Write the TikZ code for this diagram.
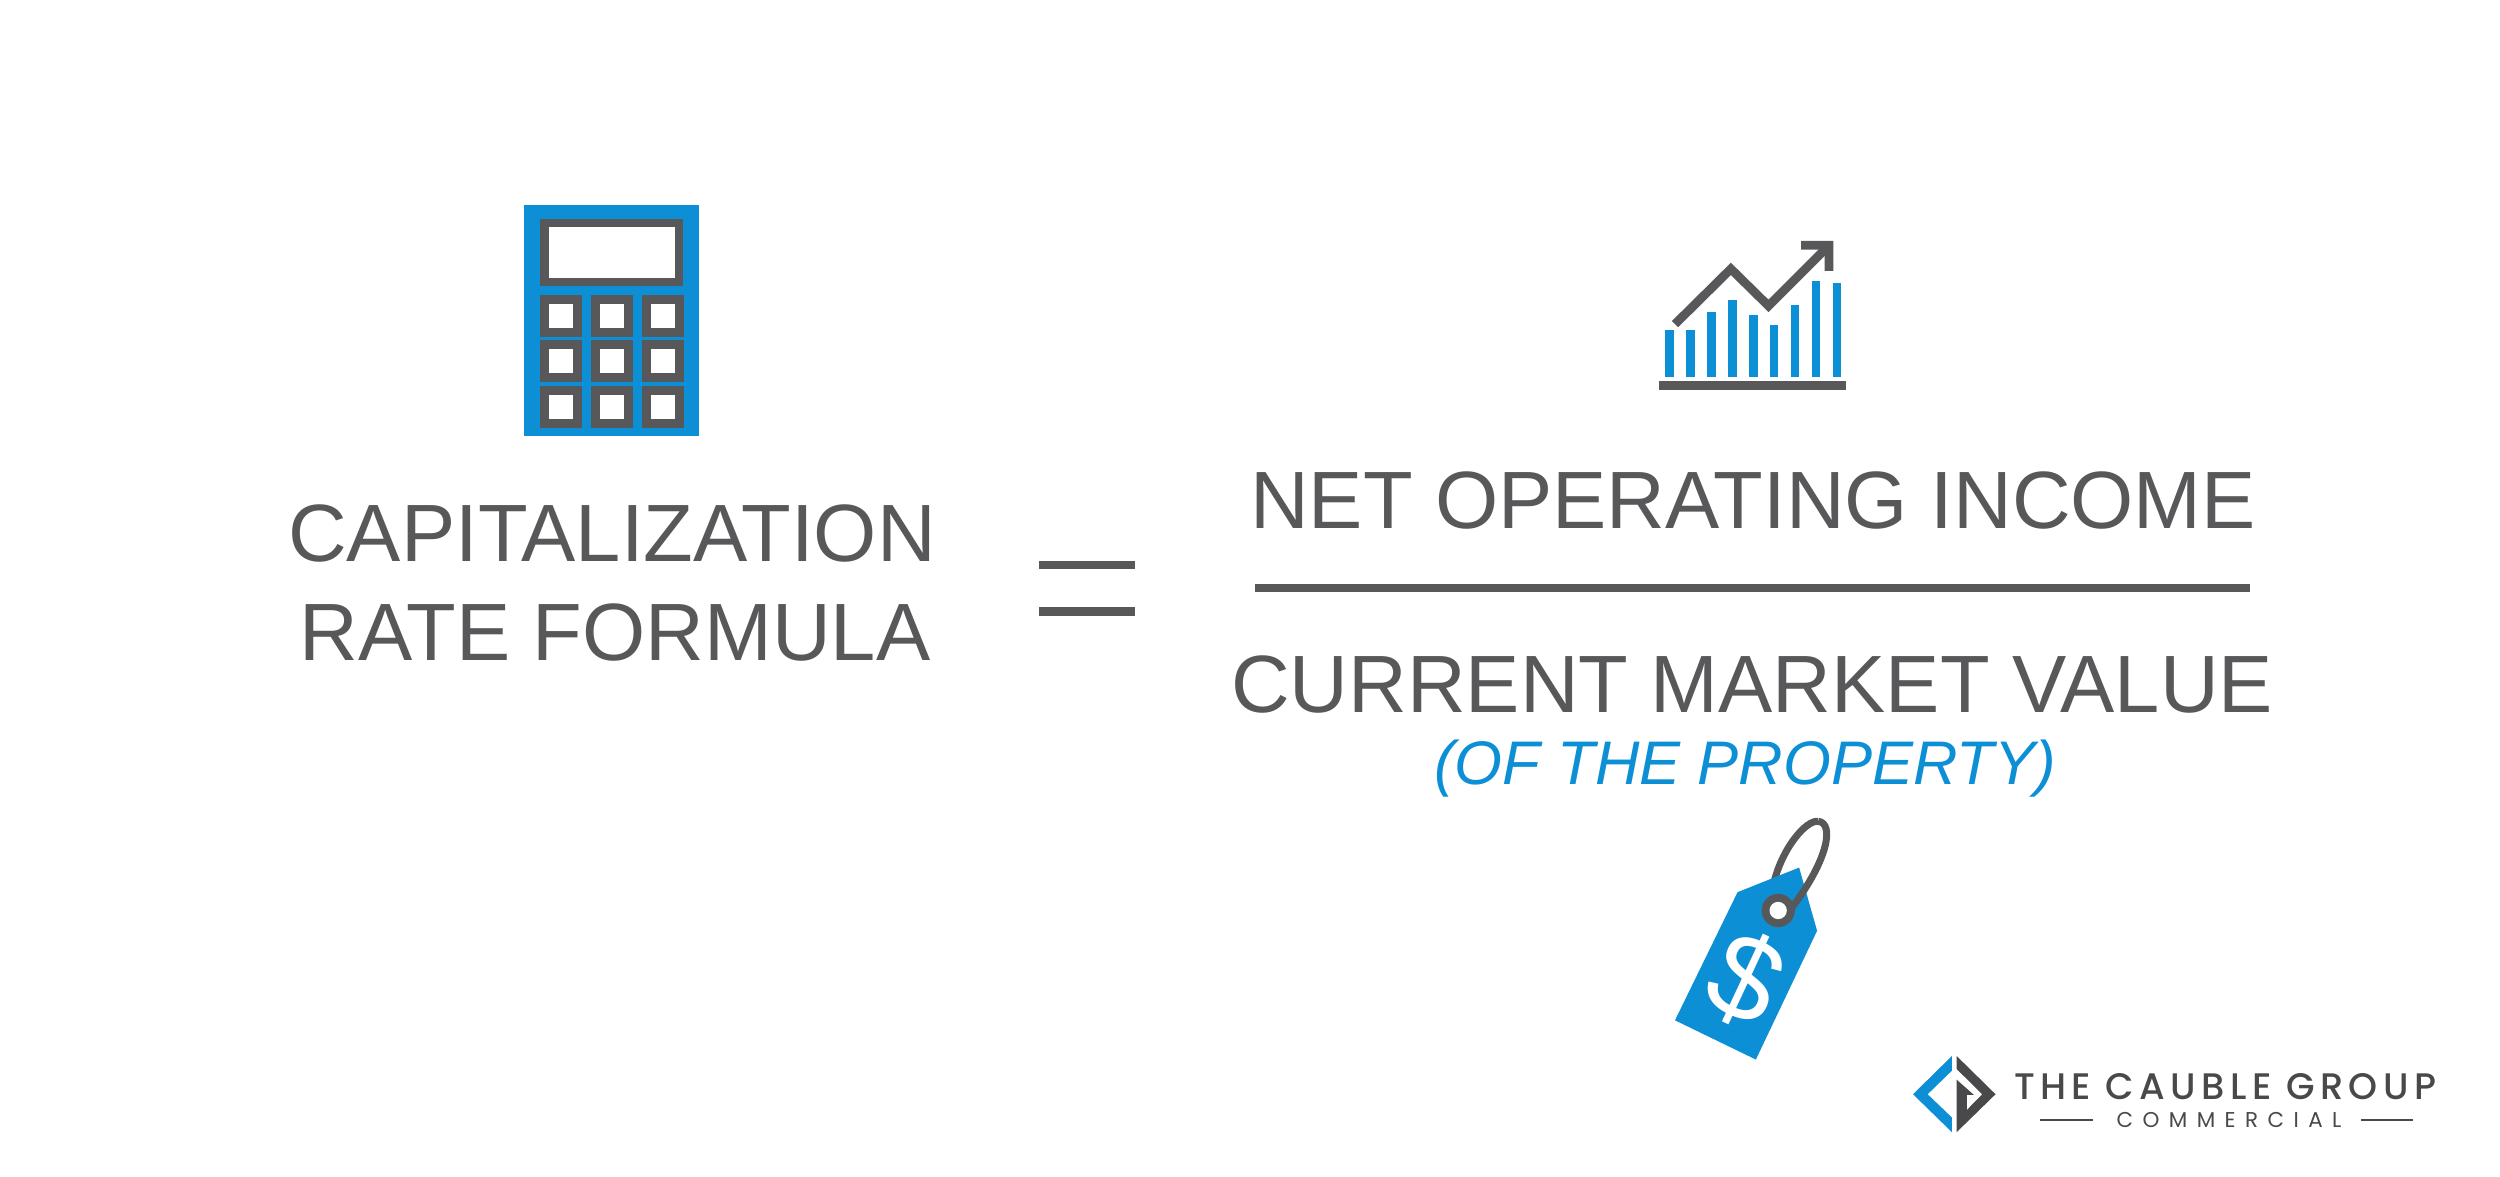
\documentclass[tikz,border=0pt]{standalone}
\usepackage{fontspec}
\setmainfont{Liberation Sans}
\newfontfamily\logofont[LetterSpace=14.5]{Poppins Medium}
\newfontfamily\subfont[LetterSpace=44]{Poppins}
\definecolor{capblue}{HTML}{0D8FD6}
\definecolor{capgrey}{HTML}{58585A}
\definecolor{logogrey}{HTML}{49494B}
\tikzset{
  bigtext/.style={anchor=base,inner sep=0pt,text=capgrey,font=\fontsize{23.12}{28}\selectfont},
  keyface/.style={draw=capgrey,line width=0.088cm,fill=white}
}
\begin{document}
\begin{tikzpicture}[x=0.01cm,y=-0.01cm]
    \useasboundingbox (0,0) rectangle (2500,1177);

    % calculator
    \fill[capblue] (524,205) rectangle (699,436);
    \draw[keyface] (544.5,223) rectangle (679,282);
    \foreach \keyx in {544.5,595.5,646.5}
      \foreach \keyy in {299.5,344.5,390.5}
        \draw[keyface] (\keyx,\keyy) rectangle ++(33,33);

    % chart
    \begin{scope}[shift={(1640,220)},x=0.00333cm,y=-0.00333cm]
      \foreach \barx/\bartop in {88/330,151/330,214/275,277/239,340/287,403/315,466/256,529/182,592/189}
        \fill[capblue] (\barx-13,\bartop) rectangle (\barx+13,471);
      \fill[capgrey] (56,485) rectangle (618,511);
      \draw[capgrey,line width=0.088cm] (105,313)--(273,147)--(386,258)--(568,76);
      \fill[capgrey] (484,63)--(581,63)--(581,153)--(555,153)--(555,89)--(484,89)--cycle;
    \end{scope}

    % price tag
    \begin{scope}[shift={(1660,800)},x=0.00333cm,y=-0.00333cm]
      \draw[capgrey,line width=0.07cm] (343,245) .. controls (370,140) and (440,60) .. (475,64);
      \fill[capblue] (233,277)--(418,203)--(472,393)--(288,780)--(45,662)--cycle;
      \draw[capgrey,line width=0.07cm] (475,64) .. controls (525,70) and (505,180) .. (395,325);
      \fill[capgrey] (355,332) circle (50);
      \fill[white] (355,332) circle (26);
      \node[inner sep=0pt,text=white,rotate=-25,font=\fontsize{34}{34}\selectfont] (dollar) at (257,537) {\$};
    \end{scope}

    % formula
    \node[bigtext] (capline) at (612,562) {CAPITALIZATION};
    \node[bigtext] (rateline) at (615,661) {RATE FORMULA};
    \fill[capgrey] (1039,561) rectangle (1135,569);
    \fill[capgrey] (1039,607) rectangle (1135,616);
    \node[bigtext] (incomeline) at (1753,529) {NET OPERATING INCOME};
    \fill[capgrey] (1255,584) rectangle (2250,592.5);
    \node[bigtext] (valueline) at (1752,713) {CURRENT MARKET VALUE};
    \node[anchor=base,inner sep=0pt,text=capblue,font=\itshape\fontsize{17.5}{20}\selectfont] (propline) at (1745,785) {(OF THE PROPERTY)};

    % logo
    \begin{scope}[shift={(1905,1045)},x=0.00333cm,y=-0.00333cm]
      \fill[capblue] (141,33)--(24,148)--(141,262)--(141,218)--(68,148)--(141,77)--cycle;
      \fill[logogrey] (155,33)--(272,148)--(155,262)--(155,104)--(207,150)--(186,150)--(186,195)--(232,148)--(155,72)--cycle;
    \end{scope}
    \node[anchor=base,inner sep=0pt,text=logogrey,font=\logofont\fontsize{10.5}{12}\selectfont] (logoname) at (2225,1100) {THE CAUBLE GROUP};
    \node[anchor=base,inner sep=0pt,text=logogrey,font=\subfont\fontsize{6.1}{8}\selectfont] (logosub) at (2229,1128) {COMMERCIAL};
    \draw[logogrey,line width=0.012cm] (2040,1120)--(2093,1120);
    \draw[logogrey,line width=0.012cm] (2361,1120)--(2413,1120);
\end{tikzpicture}
\end{document}
